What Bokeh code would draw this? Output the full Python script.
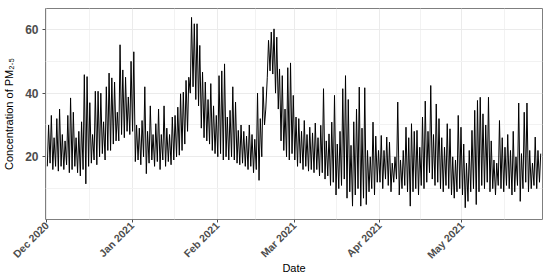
import math
import numpy as np
import pandas as pd
from bokeh.plotting import figure
from bokeh.models import FixedTicker, DatetimeTickFormatter, Range1d, ColumnDataSource
from bokeh.embed import file_html
from bokeh.resources import INLINE

# ---------------- data ----------------
start_date = "2020-12-01"
tick_dates = ["2020-12-01", "2021-01-01", "2021-02-01", "2021-03-01", "2021-04-01", "2021-05-01", "2021-06-01"]
tick_labels = ["Dec 2020", "Jan 2021", "Feb 2021", "Mar 2021", "Apr 2021", "May 2021"]
y_ticks = [20, 40, 60]
y_minor = [10, 30, 50]

# daily peak / trough concentration, Dec 2020 .. May 2021
high_dec = [30, 33, 26, 32, 35, 27, 25, 33, 38.5, 34, 26, 28, 31, 45.8, 45.2, 37, 27, 40.6, 40.6, 40,
            31, 42, 46.3, 44.8, 43.5, 34, 55.2, 47.3, 45, 38.8, 50]
low_dec = [17, 18, 16, 17, 15.5, 17, 16, 17.5, 15, 16, 17, 15, 14, 16, 11.5, 17, 18, 19, 17.5, 20,
           21, 19, 22, 22, 24, 25, 25, 27, 26, 28, 27]
high_jan = [53, 30, 29, 31.4, 42, 28, 36, 27, 30.4, 35, 27, 36, 29, 27, 32.5, 33, 35.6, 39.8, 40.3, 44,
            45, 63.8, 61.8, 61.8, 55, 46.6, 43.5, 38, 43, 36, 33]
low_jan = [28, 18.5, 19, 17.5, 20, 14.7, 18, 19, 17, 18.5, 16, 19, 17, 18.5, 17.5, 19, 20, 20.5, 22, 24,
           28, 40, 42, 38, 36, 29, 26, 25, 24, 22, 21]
high_feb = [45.5, 47, 49.2, 32.5, 34.6, 42, 37.2, 28.3, 30, 28, 26.5, 30, 27, 25.5, 40, 32, 42, 35,
            56.6, 59.2, 60.2, 57.6, 47.6, 45.5, 35, 48, 49.5, 39.3]
low_feb = [20, 21, 19, 20, 19, 20, 19, 18, 17.5, 18, 17, 16, 17, 15, 16, 12.6, 20, 30, 45, 47,
           46, 40, 35, 25, 22, 20, 19, 21]
high_mar = [32.5, 32, 28, 31.4, 27, 29.3, 27.5, 30.6, 26, 29.9, 41.4, 25, 27.2, 30.9, 39.3, 24, 28, 41.4,
            45.5, 38, 23.6, 31, 35, 41.9, 29, 41.7, 22, 20, 30.9, 26.5, 22]
low_mar = [19, 17, 18, 16, 17, 15.5, 16, 15, 16, 14, 15, 13, 14, 11, 12, 8, 10, 11, 13, 7,
           9, 4.5, 8, 10, 4.5, 7, 5, 9, 10, 8, 12]
high_apr = [26.7, 22, 26.2, 24.6, 18, 20, 37.2, 19, 22, 29.3, 26, 30.4, 28, 28.3, 23, 32.5, 37.5, 28,
            42.4, 27, 36.6, 32, 26, 23, 30.4, 28.8, 20, 19, 33, 29.3]
low_apr = [12, 10, 13, 11, 9, 12, 13, 8, 10, 11, 9, 4.5, 9, 10, 8, 11, 10, 12, 15, 13,
           11, 12, 10, 9, 11, 10, 8, 7, 9, 10]
high_may = [24, 18, 22, 28.3, 34.6, 37.7, 38.7, 33.5, 30, 38.7, 25, 19, 18, 31.4, 26, 23, 27, 22, 28, 20,
            36.9, 21, 34, 36.9, 22, 18, 26.2, 22, 21]
low_may = [8, 4, 6, 9, 10, 5, 9, 11, 10, 12, 9, 10, 8, 11, 10, 9, 11, 10, 8, 9,
           11, 6, 10, 12, 9, 10, 11, 10, 12]

daily_high = high_dec + high_jan + high_feb + high_mar + high_apr + high_may
daily_low = low_dec + low_jan + low_feb + low_mar + low_apr + low_may

# ---------------- build series ----------------
DAY = 86400000.0
t0 = pd.Timestamp(start_date).value / 1e6
xs, ys = [], []
for i, (lo, hi) in enumerate(zip(daily_low, daily_high)):
    xs += [t0 + (i + 0.2) * DAY, t0 + (i + 0.65) * DAY]
    ys += [lo, hi]
src = ColumnDataSource(dict(t=xs, v=ys))

tick_ms = [pd.Timestamp(d).value / 1e6 for d in tick_dates]
minor_ms = [(a + b) / 2 for a, b in zip(tick_ms[:-1], tick_ms[1:])]

p = figure(width=550, height=279, x_axis_type="datetime", output_backend="svg",
           toolbar_location=None,
           x_range=Range1d(t0 - 0.47 * DAY, t0 + 180.3 * DAY),
           y_range=Range1d(0.3, 66.6),
           min_border_left=43, min_border_right=8, min_border_top=8, min_border_bottom=60)
p.background_fill_color = "white"
p.border_fill_color = "white"
p.outline_line_color = "#7f7f7f"
p.outline_line_width = 1

p.line("t", "v", source=src, line_color="black", line_width=1)

# axes
p.xaxis.ticker = FixedTicker(ticks=tick_ms[:-1], minor_ticks=minor_ms)
fmt = "%b %Y"
p.xaxis.formatter = DatetimeTickFormatter(days=fmt, months=fmt, years=fmt, hours=fmt, hourmin=fmt,
                                          minutes=fmt, minsec=fmt, seconds=fmt, milliseconds=fmt,
                                          microseconds=fmt)
p.xaxis.major_label_orientation = math.pi / 4
p.yaxis.ticker = FixedTicker(ticks=y_ticks, minor_ticks=y_minor)

for ax in (p.xaxis[0], p.yaxis[0]):
    ax.axis_line_color = None
    ax.major_tick_line_color = "#4d4d4d"
    ax.major_tick_out = 3
    ax.major_tick_in = 0
    ax.minor_tick_line_color = None
    ax.major_label_text_font = "Liberation Sans"
    ax.major_label_text_font_style = "bold"
    ax.major_label_text_color = "#4d4d4d"
    ax.axis_label_text_font = "Liberation Sans"
    ax.axis_label_text_font_style = "normal"
    ax.axis_label_text_color = "black"
    ax.axis_label_text_font_size = "11px"

p.xaxis.major_label_text_font_size = "10.5px"
p.yaxis.major_label_text_font_size = "12px"
p.yaxis.major_label_standoff = 3
p.xaxis.major_label_standoff = 0
p.xaxis.axis_label = "Date"
p.xaxis.axis_label_standoff = -6
p.yaxis.axis_label = "Concentration of PM\u2082.\u2085"
p.yaxis.axis_label_standoff = 7

# grid
for g in (p.xgrid[0], p.ygrid[0]):
    g.grid_line_color = "#ebebeb"
    g.grid_line_width = 1
    g.minor_grid_line_color = "#f2f2f2"
    g.minor_grid_line_width = 1

open("out.html", "w").write(file_html(p, INLINE))
